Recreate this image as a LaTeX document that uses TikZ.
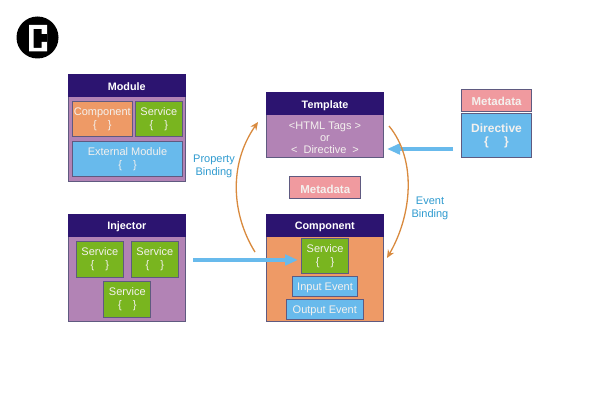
\documentclass[tikz,border=0pt]{standalone}
\usepackage{fontspec}
\setmainfont{Liberation Sans}
\usetikzlibrary{arrows.meta}
\definecolor{hdr}{HTML}{2C1470}
\definecolor{purp}{HTML}{B283B5}
\definecolor{orng}{HTML}{EE9A66}
\definecolor{grn}{HTML}{79B51F}
\definecolor{blu}{HTML}{68BAEC}
\definecolor{pnk}{HTML}{F09A9F}
\definecolor{edge}{HTML}{5F5A80}
\definecolor{lbl}{HTML}{2F9BD0}
\definecolor{arc}{HTML}{D98A3E}
\definecolor{wtxt}{HTML}{F4F1EE}
\tikzset{
  x=1pt,y=-1pt,
  box/.style={draw=edge,line width=0.8pt,inner sep=0pt,align=center,text=wtxt,font=\fontsize{11}{13}\selectfont,anchor=north west,execute at begin node={\rule{0pt}{11pt}}},
  header/.style={box,draw=hdr,fill=hdr,text=white,font=\fontsize{10.8}{12}\selectfont\bfseries},
  panel/.style={box,fill=purp},
  orangebox/.style={box,fill=orng},
  greenbox/.style={box,fill=grn},
  bluebox/.style={box,fill=blu},
  pinkbox/.style={box,fill=pnk,font=\fontsize{11.5}{13}\selectfont\bfseries},
  blockarrow/.style={draw=blu,line width=4.4pt,-{Triangle[length=13pt,width=10.5pt]}},
  bindarrow/.style={draw=arc,line width=1.3pt,-{Stealth[length=8pt,width=7pt]}},
  bindlabel/.style={text=lbl,align=center,font=\fontsize{11}{12.8}\selectfont},
}
\newcommand{\boxat}[7]{\node[#1,minimum width=#4-#2,minimum height=#5-#3] (#6) at (#2-0.6,#3-0.6) {#7};}
\begin{document}
\begin{tikzpicture}
\useasboundingbox (0,0) rectangle (602,401);
\fill[white] (0,0) rectangle (602,401);
% logo
\fill[black] (37.5,37.5) circle (21);
\fill[white,even odd rule] (29,25) rectangle (47,51.5) (33.5,29) -- (33.5,48) -- (41.5,48) -- (41.5,42) -- (47,42) -- (47,34) -- (41.5,34) -- (41.5,29) -- cycle;
% Module
\boxat{panel}{68.5}{74.5}{185.5}{182}{modulebody}{}
\boxat{header}{68.5}{74.5}{185.5}{96.5}{modulehead}{Module}
\boxat{orangebox}{72.5}{102}{132.5}{137}{modcomp}{Component\\\{\quad\}}
\boxat{greenbox}{135.5}{102}{182.5}{137}{modserv}{Service\\\{\quad\}}
\boxat{bluebox}{72.5}{142}{183}{177}{modext}{External Module\\\{\quad\}}
% Injector
\boxat{panel}{68.5}{214.5}{185.5}{322}{injbody}{}
\boxat{header}{68.5}{214.5}{185.5}{236.5}{injhead}{Injector}
\boxat{greenbox}{76.5}{241.5}{123.5}{277.5}{injs1}{Service\\\{\quad\}}
\boxat{greenbox}{131.5}{241.5}{178.5}{277.5}{injs2}{Service\\\{\quad\}}
\boxat{greenbox}{104}{281.5}{151}{317.5}{injs3}{Service\\\{\quad\}}
% Template
\boxat{panel}{266.5}{93}{384}{158}{tplbody}{}
\boxat{header}{266.5}{93}{384}{115}{tplhead}{Template}
\node[text=wtxt,align=center,font=\fontsize{11}{12}\selectfont] (tpltext) at (325,137.5) {<HTML Tags >\\or\\<\ \ Directive\ \ >};
% Metadata middle
\boxat{pinkbox}{290}{177}{361}{199}{midmeta}{Metadata}
% Component
\boxat{orangebox}{266.5}{214.5}{383.5}{322}{compbody}{}
\boxat{header}{266.5}{214.5}{383.5}{236.5}{comphead}{Component}
\boxat{greenbox}{301.5}{238.5}{349}{274}{compserv}{Service\\\{\quad\}}
\boxat{bluebox}{293}{276.5}{357.5}{296.5}{compin}{Input Event}
\boxat{bluebox}{286.5}{299.5}{363.5}{320}{compout}{Output Event}
% Directive
\boxat{pinkbox}{461.5}{89.5}{532}{111.5}{dirmeta}{Metadata}
\boxat{bluebox}{461.5}{114}{532}{158}{directive}{\fontsize{12}{14}\selectfont\bfseries Directive\\\fontsize{12}{14}\selectfont\bfseries\{\quad\ \}}
% Connectors
\coordinate (tplin) at (387,149);
\coordinate (dirout) at (453,149);
\coordinate (injout) at (193,260);
\coordinate (servin) at (298,260);
\coordinate (propstart) at (255,252);
\coordinate (propend) at (258,122);
\coordinate (evstart) at (389,126);
\coordinate (evend) at (387,258);
\draw[blockarrow] (dirout) -- (tplin);
\draw[blockarrow] (injout) -- (servin);
\draw[bindarrow] (propstart) .. controls (232,215) and (228,165) .. (propend);
\draw[bindarrow] (evstart) .. controls (417,160) and (412,215) .. (evend);
\node[bindlabel] (proplabel) at (214,166.5) {Property\\Binding};
\node[bindlabel] (evlabel) at (430,208.5) {Event\\Binding};
\end{tikzpicture}
\end{document}
